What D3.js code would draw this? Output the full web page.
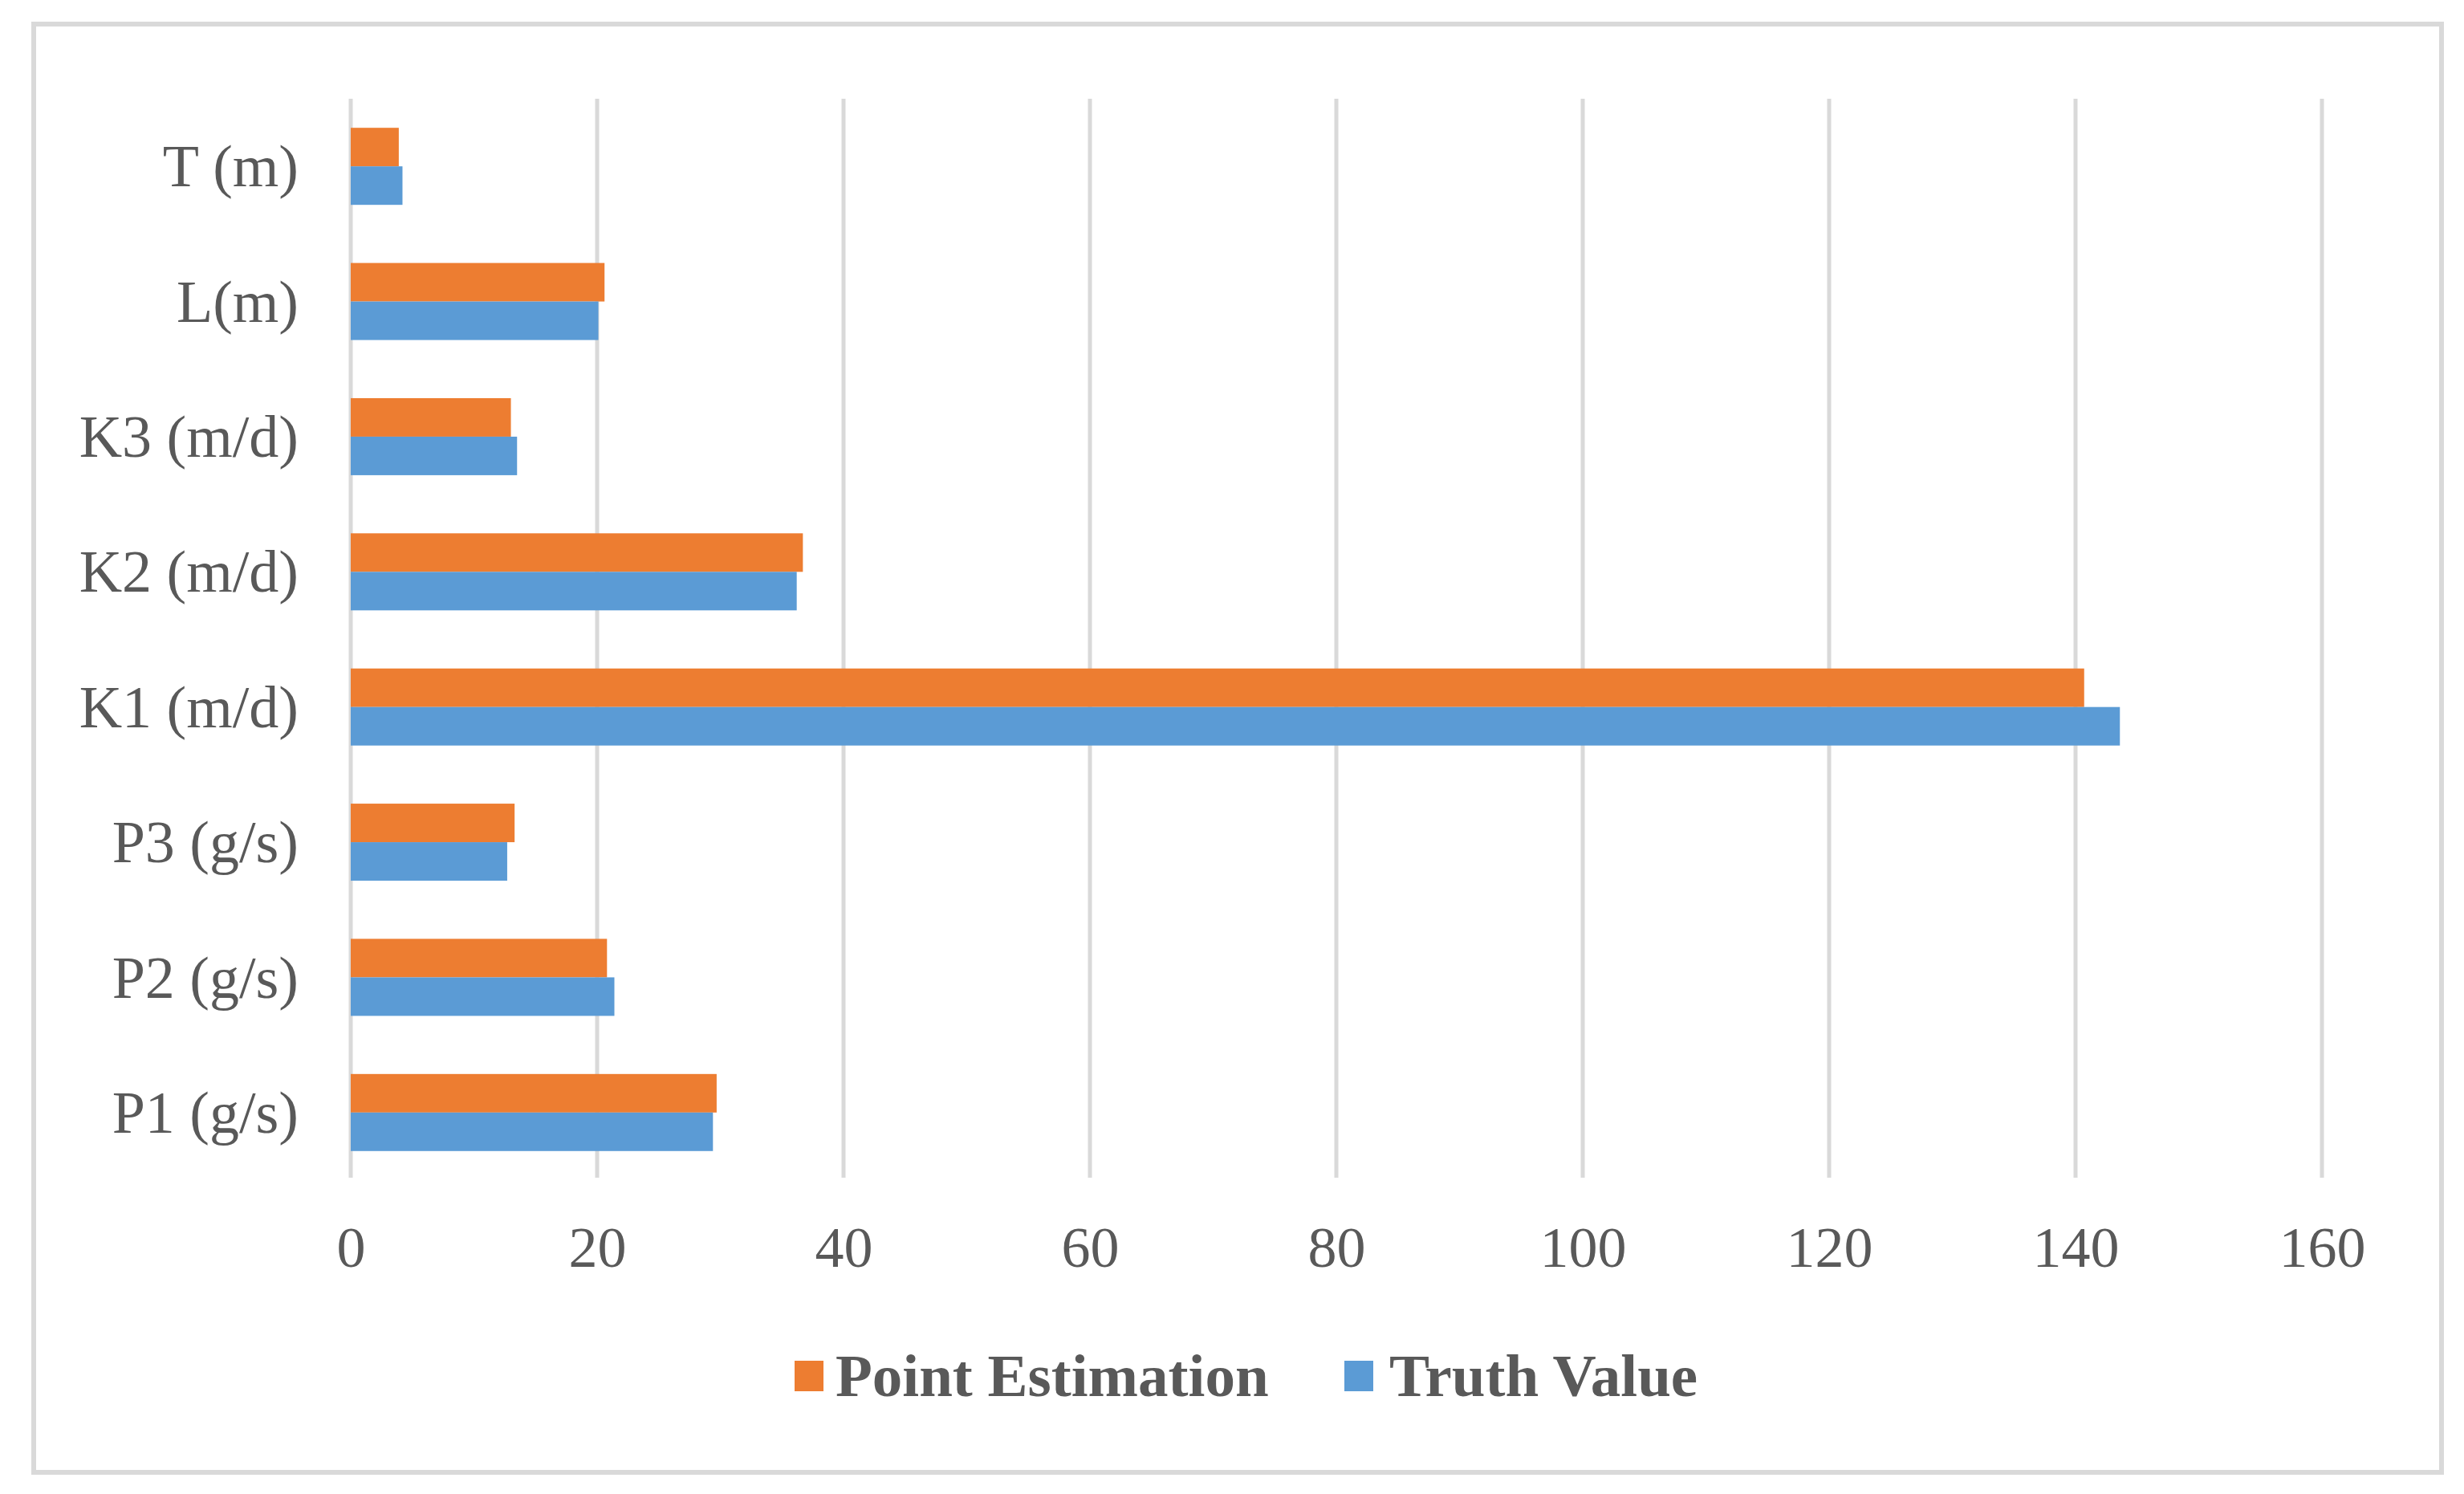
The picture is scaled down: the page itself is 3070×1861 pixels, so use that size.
<!DOCTYPE html>
<html>
<head>
<meta charset="utf-8">
<script src="https://cdn.jsdelivr.net/npm/d3@7"></script>
<style>
  body { margin: 0; background: #fff; }
  svg { display: block; }
  text { font-family: "Liberation Serif", "Times New Roman", serif; fill: #595959; }
</style>
</head>
<body>
<svg id="chart" width="3070" height="1861"></svg>
<script>
// categories, top to bottom as drawn
var categories = ['T (m)', 'L(m)', 'K3 (m/d)', 'K2 (m/d)', 'K1 (m/d)', 'P3 (g/s)', 'P2 (g/s)', 'P1 (g/s)'];
var seriesNames = ['Point Estimation', 'Truth Value'];
var pointEstimation = [3.9, 20.6, 13.0, 36.7, 140.7, 13.3, 20.8, 29.7];
var truthValue = [4.2, 20.1, 13.5, 36.2, 143.6, 12.7, 21.4, 29.4];
var xTicks = [0, 20, 40, 60, 80, 100, 120, 140, 160];
var colors = ['#ED7D31', '#5B9BD5'];

var svg = d3.select('#chart');

svg.append('rect')
	.attr('x', 42).attr('y', 30)
	.attr('width', 3000).attr('height', 1804)
	.attr('fill', '#fff')
	.attr('stroke', '#d9d9d9')
	.attr('stroke-width', 6);

var x = d3.scaleLinear().domain([0, 160]).range([437, 2893]);
var y = d3.scaleBand().domain(categories).range([123, 1470]).paddingInner(0.43).paddingOuter(0.215);
var ySub = d3.scaleBand().domain(seriesNames).range([0, y.bandwidth()]);

// gridlines
svg.append('g')
	.selectAll('line')
	.data(xTicks)
	.join('line')
	.attr('x1', function(d) { return x(d); })
	.attr('x2', function(d) { return x(d); })
	.attr('y1', 123)
	.attr('y2', 1467)
	.attr('stroke', '#d9d9d9')
	.attr('stroke-width', 5);

var rows = categories.map(function(c, i) {
	return { cat: c, vals: [pointEstimation[i], truthValue[i]] };
});

var groups = svg.append('g')
	.selectAll('g')
	.data(rows)
	.join('g')
	.attr('transform', function(d) { return 'translate(0,' + y(d.cat) + ')'; });

groups.selectAll('rect')
	.data(function(d) { return d.vals.map(function(v, j) { return { name: seriesNames[j], v: v, j: j }; }); })
	.join('rect')
	.attr('x', x(0))
	.attr('y', function(d) { return ySub(d.name); })
	.attr('width', function(d) { return x(d.v) - x(0); })
	.attr('height', ySub.bandwidth())
	.attr('fill', function(d) { return colors[d.j]; });

// x axis labels
var xAxis = svg.append('g')
	.attr('transform', 'translate(0,1470)')
	.call(d3.axisBottom(x).tickValues(xTicks).tickSize(0).tickPadding(0));
xAxis.select('.domain').remove();
xAxis.selectAll('text')
	.attr('y', 108)
	.attr('dy', null)
	.style('font-size', '72px')
	.style('fill', '#595959');

// category labels
var yAxis = svg.append('g')
	.attr('transform', 'translate(372,0)')
	.call(d3.axisLeft(y).tickSize(0).tickPadding(0));
yAxis.select('.domain').remove();
yAxis.selectAll('text')
	.attr('dy', '0.34em')
	.style('font-size', '74px')
	.style('fill', '#595959');

// legend
var legendItems = [
	{ name: seriesNames[0], color: colors[0], sx: 990, tx: 1041 },
	{ name: seriesNames[1], color: colors[1], sx: 1675, tx: 1731 }
];
var legend = svg.append('g');
legend.selectAll('rect')
	.data(legendItems)
	.join('rect')
	.attr('x', function(d) { return d.sx; })
	.attr('y', 1695)
	.attr('width', 36)
	.attr('height', 38)
	.attr('fill', function(d) { return d.color; });
legend.selectAll('text')
	.data(legendItems)
	.join('text')
	.attr('x', function(d) { return d.tx; })
	.attr('y', 1739)
	.style('font-size', '75px')
	.style('font-weight', 'bold')
	.text(function(d) { return d.name; });
</script>
</body>
</html>
